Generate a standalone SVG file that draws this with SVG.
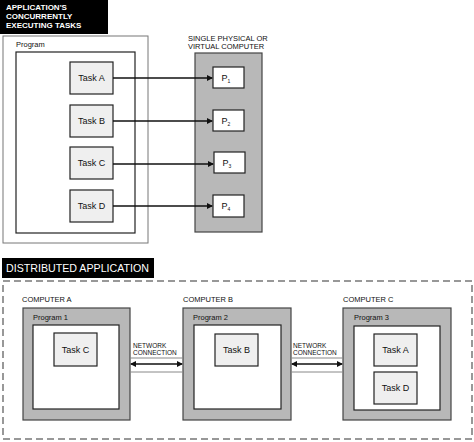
<svg xmlns="http://www.w3.org/2000/svg" width="474" height="442" viewBox="0 0 474 442">
<style>
text{font-family:"Liberation Sans",Arial,sans-serif;fill:#111}
.t{font-size:9px;text-anchor:middle}
.lab{font-size:7.5px}
.net{font-size:6.5px}
.hd{font-size:8px;fill:#fff;font-weight:bold}
.task{fill:#efefef;stroke:#222;stroke-width:1.2}
.pbox{fill:#fff;stroke:#222;stroke-width:1.2}
.comp{fill:#b8b8b8;stroke:#444;stroke-width:1.2}
.prog{fill:#fff;stroke:#222;stroke-width:1.2}
.conn{stroke:#111;stroke-width:1.3;fill:none}
.pipe{stroke:#888;stroke-width:1;fill:none}
</style>
<defs>
<marker id="ah" markerWidth="6" markerHeight="6" refX="5" refY="3" orient="auto" markerUnits="userSpaceOnUse">
<path d="M0,0 L6,3 L0,6 z" fill="#111"/>
</marker>
<marker id="ahs" markerWidth="6" markerHeight="6" refX="1" refY="3" orient="auto" markerUnits="userSpaceOnUse">
<path d="M6,0 L0,3 L6,6 z" fill="#111"/>
</marker>
</defs>
<rect width="474" height="442" fill="#fff"/>

<g id="title-top">
<rect x="0" y="0" width="108" height="34" fill="#000"/>
<text class="hd" x="6" y="10">APPLICATION'S</text>
<text class="hd" x="6" y="19">CONCURRENTLY</text>
<text class="hd" x="6" y="28">EXECUTING TASKS</text>
</g>

<g id="app-box">
<rect x="3" y="36" width="145" height="207" fill="#fff" stroke="#777" stroke-width="1"/>
<text class="lab" x="16" y="47">Program</text>
<rect x="16" y="52" width="119" height="181" class="prog"/>
</g>

<g id="taskA"><rect x="70" y="62" width="43" height="32" class="task"/><text class="t" x="91.5" y="81">Task A</text></g>
<g id="taskB"><rect x="70" y="105" width="43" height="32" class="task"/><text class="t" x="91.5" y="124">Task B</text></g>
<g id="taskC"><rect x="70" y="147" width="43" height="32" class="task"/><text class="t" x="91.5" y="166">Task C</text></g>
<g id="taskD"><rect x="70" y="190" width="43" height="32" class="task"/><text class="t" x="91.5" y="209">Task D</text></g>

<g id="computer">
<text class="lab" x="188" y="41">SINGLE PHYSICAL OR</text>
<text class="lab" x="188" y="49">VIRTUAL COMPUTER</text>
<rect x="195" y="53" width="67" height="179" class="comp"/>
</g>
<g id="p1"><rect x="213" y="67" width="31" height="21" class="pbox"/><text class="t" x="226" y="81">P<tspan font-size="5" dy="2">1</tspan></text></g>
<g id="p2"><rect x="213" y="110" width="31" height="21" class="pbox"/><text class="t" x="226" y="124">P<tspan font-size="5" dy="2">2</tspan></text></g>
<g id="p3"><rect x="214" y="152" width="31" height="21" class="pbox"/><text class="t" x="227" y="166">P<tspan font-size="5" dy="2">3</tspan></text></g>
<g id="p4"><rect x="213" y="195" width="31" height="22" class="pbox"/><text class="t" x="226" y="209">P<tspan font-size="5" dy="2">4</tspan></text></g>

<g id="title-bottom">
<rect x="2" y="258" width="152" height="20" fill="#000"/>
<text x="6" y="272" font-size="10.5" textLength="143" lengthAdjust="spacingAndGlyphs" style="fill:#fff">DISTRIBUTED APPLICATION</text>
</g>
<g id="dist-box">
<rect x="3" y="281" width="469" height="158" fill="none" stroke="#777" stroke-width="1.5" stroke-dasharray="7,4"/>
</g>

<g id="computerA">
<text class="lab" x="22" y="302">COMPUTER A</text>
<rect x="23" y="308" width="107" height="112" class="comp"/>
<text class="lab" x="33" y="320">Program 1</text>
<rect x="33" y="325" width="86" height="84" class="prog"/>
</g>
<g id="taskC2"><rect x="54" y="333" width="43" height="33" class="task"/><text class="t" x="75.5" y="353">Task C</text></g>

<g id="computerB">
<text class="lab" x="183" y="302">COMPUTER B</text>
<rect x="183" y="308" width="108" height="112" class="comp"/>
<text class="lab" x="193" y="320">Program 2</text>
<rect x="194" y="325" width="87" height="84" class="prog"/>
</g>
<g id="taskB2"><rect x="215" y="334" width="43" height="32" class="task"/><text class="t" x="236.5" y="353">Task B</text></g>

<g id="computerC">
<text class="lab" x="343" y="302">COMPUTER C</text>
<rect x="343" y="308" width="108" height="112" class="comp"/>
<text class="lab" x="354" y="320">Program 3</text>
<rect x="354" y="326" width="86" height="84" class="prog"/>
</g>
<g id="taskA2"><rect x="374" y="334" width="43" height="32" class="task"/><text class="t" x="395.5" y="353">Task A</text></g>
<g id="taskD2"><rect x="374" y="372" width="43" height="32" class="task"/><text class="t" x="395.5" y="391">Task D</text></g>

<g id="connectors">
<line class="conn" x1="113" y1="78" x2="212" y2="78" marker-end="url(#ah)"/>
<line class="conn" x1="113" y1="121" x2="212" y2="121" marker-end="url(#ah)"/>
<line class="conn" x1="113" y1="164" x2="213" y2="164" marker-end="url(#ah)" stroke-width="1"/>
<line class="conn" x1="113" y1="206" x2="212" y2="206" marker-end="url(#ah)" stroke-width="1"/>
<text class="net" x="133" y="348">NETWORK</text>
<text class="net" x="133" y="355">CONNECTION</text>
<line class="pipe" x1="130" y1="358" x2="183" y2="358"/>
<line class="pipe" x1="130" y1="372" x2="183" y2="372"/>
<line class="conn" x1="131" y1="364" x2="182" y2="364" stroke-width="2" marker-start="url(#ahs)" marker-end="url(#ah)"/>
<text class="net" x="293" y="348">NETWORK</text>
<text class="net" x="293" y="355">CONNECTION</text>
<line class="pipe" x1="291" y1="358" x2="343" y2="358"/>
<line class="pipe" x1="291" y1="372" x2="343" y2="372"/>
<line class="conn" x1="292" y1="364" x2="342" y2="364" stroke-width="2" marker-start="url(#ahs)" marker-end="url(#ah)"/>
</g>
</svg>
